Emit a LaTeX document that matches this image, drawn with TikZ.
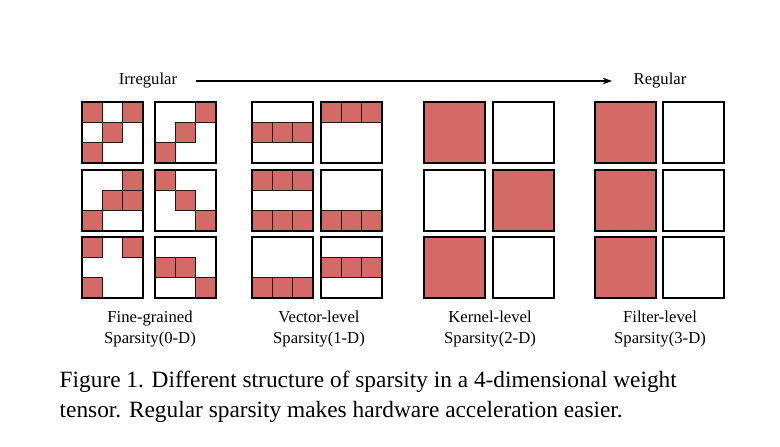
\documentclass[tikz,border=0pt]{standalone}
\usepackage{fontspec}
\setmainfont{Liberation Serif}
\usetikzlibrary{arrows.meta}
\definecolor{sp}{HTML}{D46A66}
\begin{document}
\begin{tikzpicture}[x=0.75pt,y=-0.75pt,
  box/.style={line width=2.2pt},
  cell/.style={fill=sp,draw=black!80!sp,line width=0.8pt},
  lab/.style={font=\fontsize{12.5}{16}\selectfont,align=center},
  captxt/.style={font=\fontsize{17.5}{22.5}\selectfont,align=left,anchor=north west}]
\useasboundingbox (0,0) rectangle (780,446);
% fine cell: #1 x, #2 y, #3 col, #4 row
\newcommand{\fc}[4]{\draw[cell] ({#1+#3*20.33},{#2+#4*20.33}) rectangle ++(20.33,20.33);}
\newcommand{\vr}[3]{\draw[cell] (#1,{#2+#3*20.33}) rectangle ++(20.33,20.33) ++(0,-20.33) rectangle ++(20.33,20.33) ++(0,-20.33) rectangle ++(20.33,20.33);}
\newcommand{\bx}[2]{\draw[box] (#1,#2) rectangle ++(61,61);}
\newcommand{\fb}[2]{\draw[box,fill=sp] (#1,#2) rectangle ++(61,61);}
% fine-grained
\fc{82}{102}{0}{0}\fc{82}{102}{2}{0}\fc{82}{102}{1}{1}\fc{82}{102}{0}{2}\bx{82}{102}
\fc{155}{102}{2}{0}\fc{155}{102}{1}{1}\fc{155}{102}{0}{2}\bx{155}{102}
\fc{82}{170}{2}{0}\fc{82}{170}{1}{1}\fc{82}{170}{2}{1}\fc{82}{170}{0}{2}\bx{82}{170}
\fc{155}{170}{0}{0}\fc{155}{170}{1}{1}\fc{155}{170}{2}{2}\bx{155}{170}
\fc{82}{237}{0}{0}\fc{82}{237}{2}{0}\fc{82}{237}{0}{2}\bx{82}{237}
\fc{155}{237}{0}{1}\fc{155}{237}{1}{1}\fc{155}{237}{2}{2}\bx{155}{237}
% vector-level
\vr{252}{102}{1}\bx{252}{102}
\vr{321}{102}{0}\bx{321}{102}
\vr{252}{170}{0}\vr{252}{170}{2}\bx{252}{170}
\vr{321}{170}{2}\bx{321}{170}
\vr{252}{237}{2}\bx{252}{237}
\vr{321}{237}{1}\bx{321}{237}
% kernel-level
\fb{424}{102}\bx{493}{102}
\bx{424}{170}\fb{493}{170}
\fb{424}{237}\bx{493}{237}
% filter-level
\fb{595}{102}\bx{663}{102}
\fb{595}{170}\bx{663}{170}
\fb{595}{237}\bx{663}{237}
% arrow
\node[lab] (irr) at (148,81) {Irregular};
\node[lab] (reg) at (660,81) {Regular};
\draw[-{Stealth[length=7pt,width=5pt]},line width=0.9pt] (196,81) -- (612,81);
% labels
\node[lab] (l1) at (150,329) {Fine-grained\\Sparsity(0-D)};
\node[lab] (l2) at (319,329) {Vector-level\\Sparsity(1-D)};
\node[lab] (l3) at (490,329) {Kernel-level\\Sparsity(2-D)};
\node[lab] (l4) at (660,329) {Filter-level\\Sparsity(3-D)};
\node[captxt] (c) at (55,366) {Figure 1. Different structure of sparsity in a 4-dimensional weight\\tensor. Regular sparsity makes hardware acceleration easier.};
\end{tikzpicture}
\end{document}
